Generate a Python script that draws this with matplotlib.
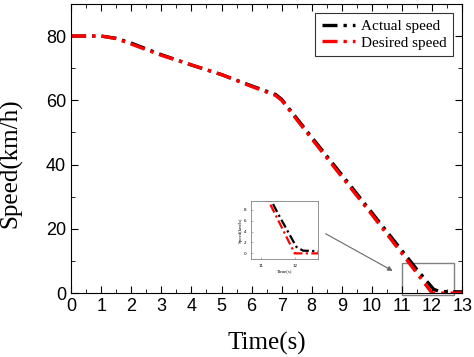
import matplotlib.pyplot as plt
from matplotlib.patches import Rectangle

# actual and desired speed profiles
t_act = [0, 1, 1.5, 2, 3, 4, 5, 6, 6.8, 7, 8, 9, 10, 11, 11.5, 12.05, 12.25, 12.7, 13]
v_act = [80, 80, 79.3, 77.8, 74.2, 71, 68, 64.5, 61.8, 60.3, 48.5, 36.8, 25, 13.2, 7.3, 1.2, 0.5, 0.4, 0.4]
t_des = [0, 1, 1.5, 2, 3, 4, 5, 6, 6.8, 7, 8, 9, 10, 11, 12.0, 13]
v_des = [80, 80, 79.2, 77.5, 74, 71, 68, 64.3, 61.5, 60, 48, 36.2, 24.4, 12.3, 0, 0]

serif = 'Liberation Serif'
sans = 'Liberation Sans'
dash = (4.5, 1.8, 1.0, 1.8)

fig = plt.figure(figsize=(4.74, 3.57), dpi=100)
ax = fig.add_axes([0.150, 0.179, 0.825, 0.810])
ax.plot(t_act, v_act, color='k', lw=2.4, dashes=dash, label='Actual speed')
ax.plot(t_des, v_des, color='red', lw=2.4, dashes=dash, label='Desired speed')

ax.set_xlim(0, 13)
ax.set_ylim(0, 90)
ax.set_xticks(range(0, 14))
ax.set_xticks([i + 0.5 for i in range(13)], minor=True)
ax.set_yticks([0, 20, 40, 60, 80])
ax.set_yticks([10, 30, 50, 70, 90], minor=True)
ax.tick_params(which='both', direction='in', top=True, right=True, labelsize=13)
ax.tick_params(which='major', length=5)
ax.tick_params(which='minor', length=3)
for lab in ax.get_xticklabels() + ax.get_yticklabels():
    lab.set_fontfamily(sans)
ax.set_xlabel('Time(s)', fontsize=18, family=serif, labelpad=12)
ax.set_ylabel('Speed(km/h)', fontsize=18, family=serif)
ax.yaxis.set_label_coords(-0.125, 0.45)

leg = ax.legend(loc='upper right', prop={'family': serif, 'size': 11},
                fancybox=False, edgecolor='k', handlelength=2.2,
                borderaxespad=0.6, labelspacing=0.2, handletextpad=0.4)
leg.get_frame().set_linewidth(0.8)

# zoom box and arrow
ax.add_patch(Rectangle((11, -0.6), 1.73, 9.9, fill=False, ec='gray', lw=1, clip_on=False))
ax.annotate('', xy=(10.77, 6.5), xytext=(8.38, 18.9),
            arrowprops=dict(arrowstyle='-|>', color='dimgray', lw=0.8, mutation_scale=7))

# inset
ins = fig.add_axes([0.530, 0.275, 0.141, 0.162])
ins.plot(t_act, v_act, color='k', lw=1.6, dashes=(4, 1.5, 1, 1.5))
ins.plot(t_des, v_des, color='red', lw=1.6, dashes=(4, 1.5, 1, 1.5))
ins.set_xlim(10.7, 12.7)
ins.set_ylim(-1, 9.6)
ins.set_xticks([11, 12])
ins.set_yticks([0, 2, 4, 6, 8])
ins.tick_params(direction='in', labelsize=3, length=1.5, width=0.4, colors='gray', labelcolor='k')
for s in ins.spines.values():
    s.set_color('gray')
    s.set_linewidth(0.6)
ins.set_xlabel('Time(s)', fontsize=3.5, family=serif, labelpad=1)
ins.set_ylabel('Speed(km/h)', fontsize=3.5, family=serif, labelpad=1)

plt.savefig('out.png', dpi=100)
